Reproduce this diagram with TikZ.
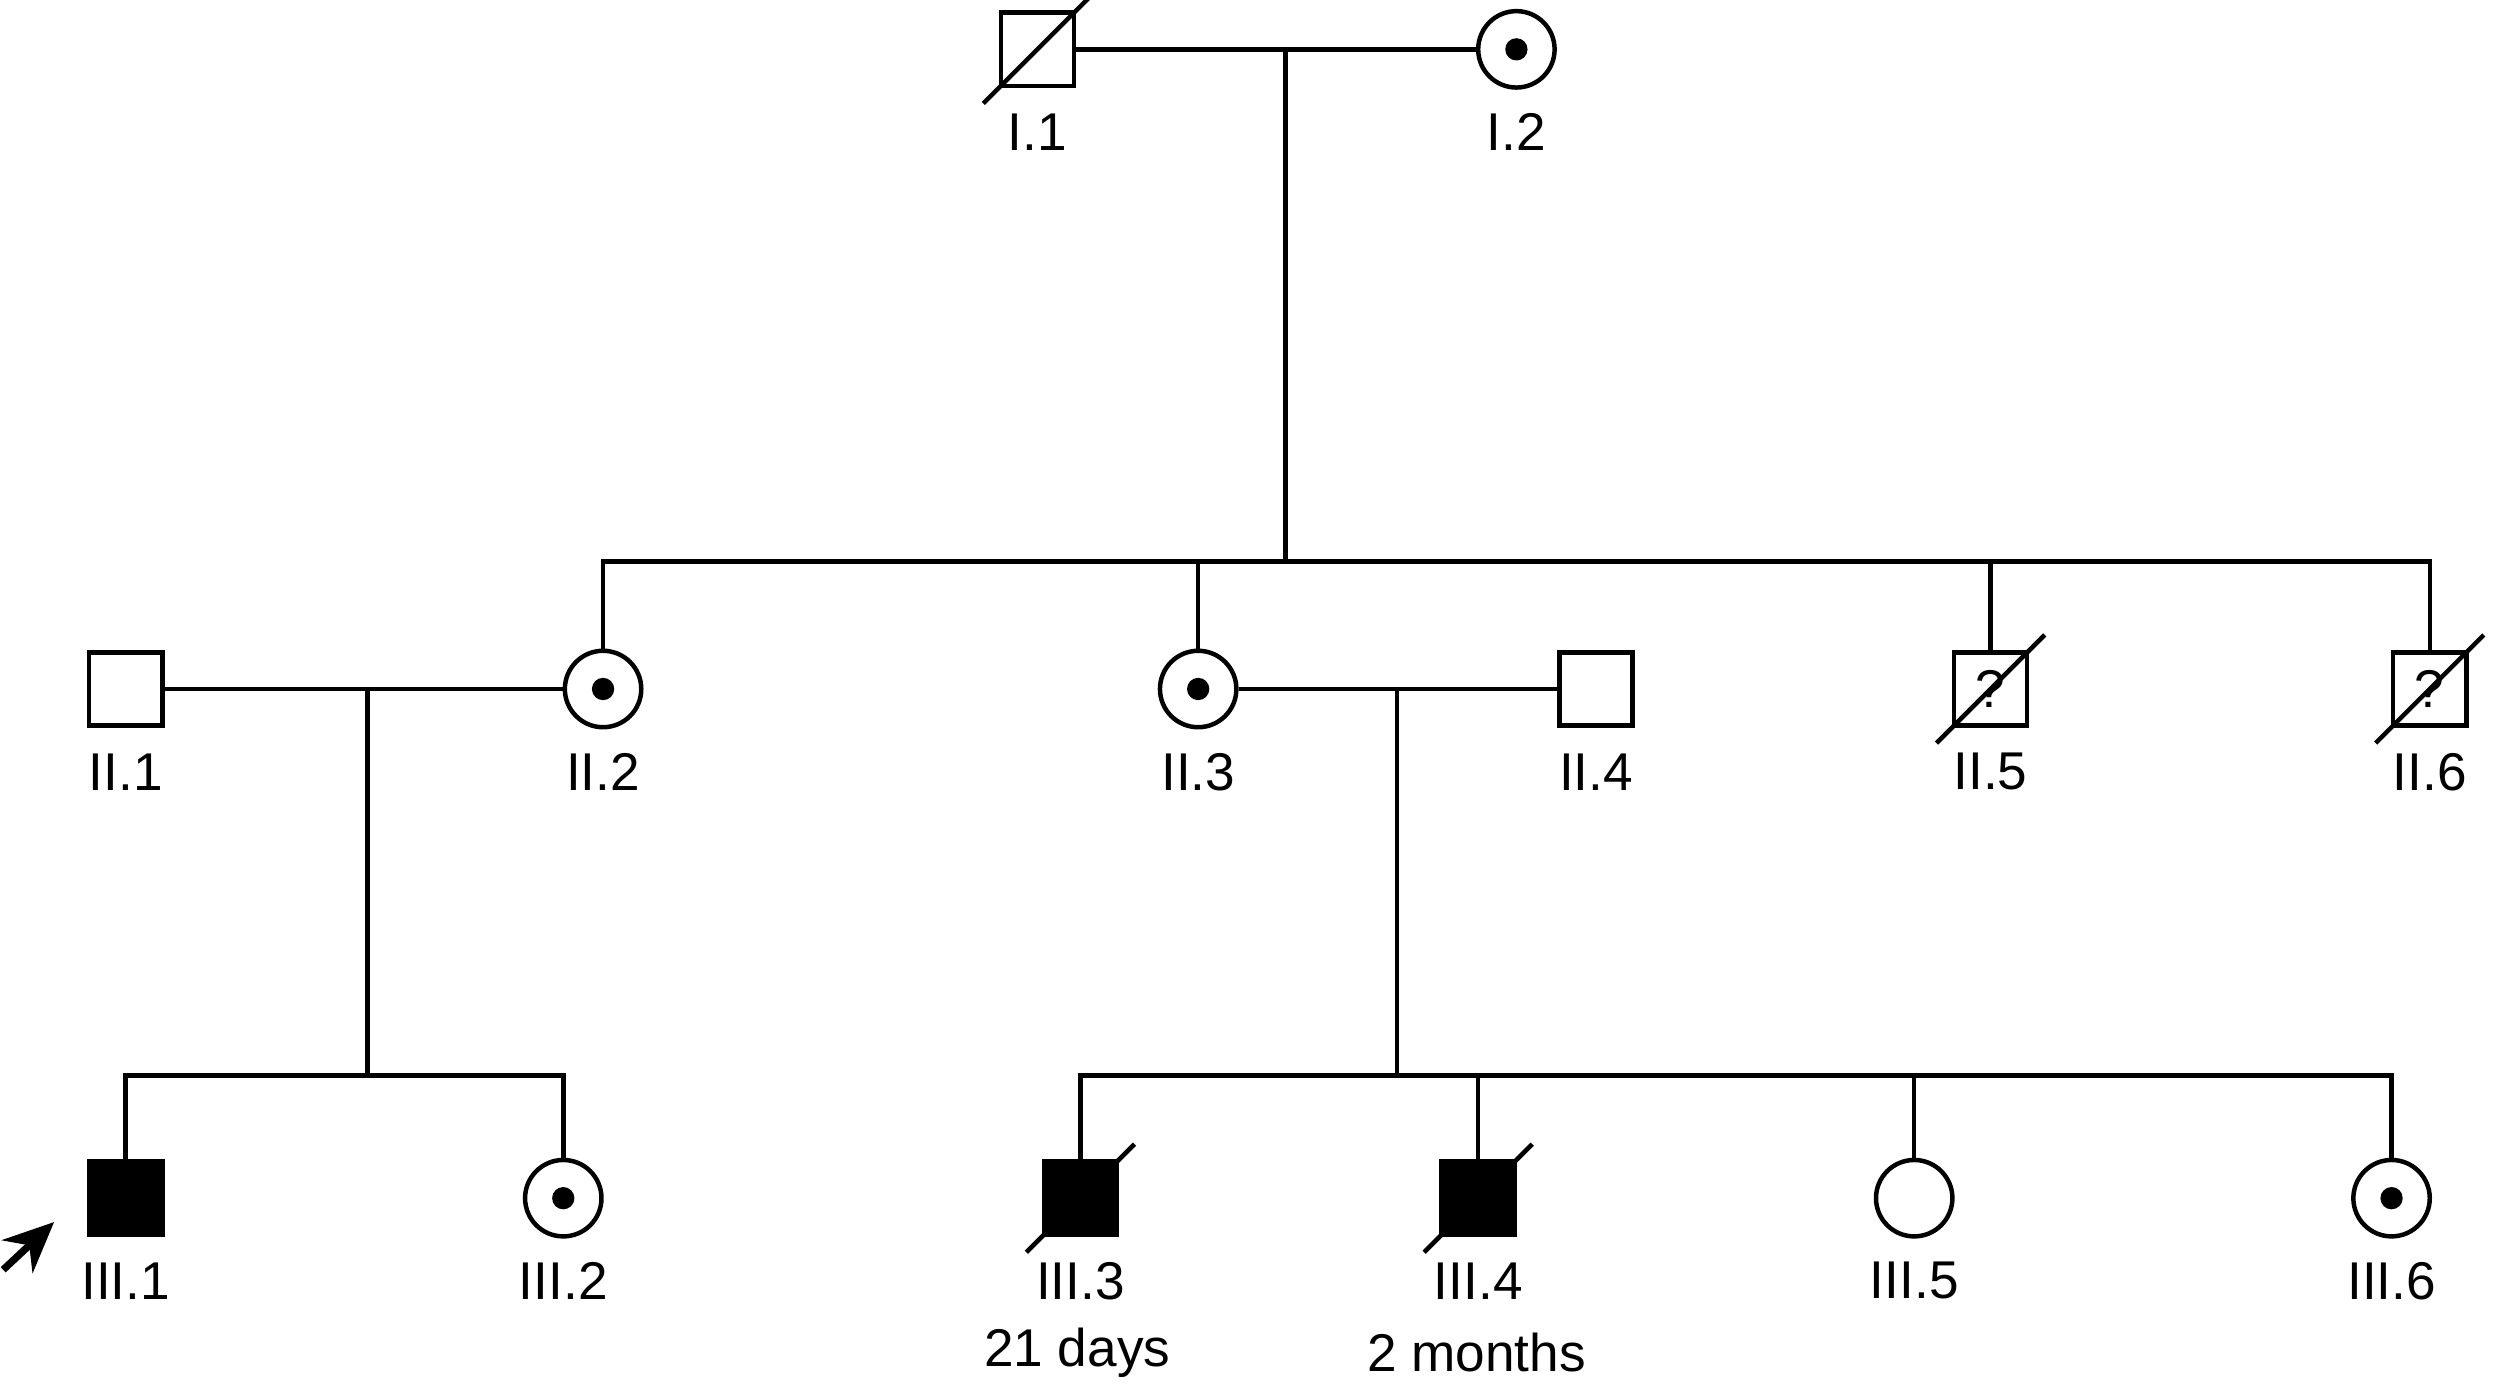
\documentclass[tikz,border=0pt]{standalone}
\usepackage{fontspec}
\setmainfont{Liberation Sans}
\usetikzlibrary{arrows.meta}
\begin{document}
\begin{tikzpicture}[x=0.01cm,y=-0.01cm,line width=0.8pt,
  m/.style={draw,rectangle,minimum size=0.46cm,inner sep=0pt},
  af/.style={m,fill=black},
  f/.style={draw,circle,minimum size=0.48cm,inner sep=0pt},
  car/.style={f,path picture={\fill (path picture bounding box.center) circle (0.07cm);}},
  lab/.style={font=\fontsize{9.5pt}{11pt}\selectfont,inner sep=0pt}]
\useasboundingbox (0,0) rectangle (1568,872);
\newcommand\dead[1]{\draw (#1)++(-34,34) -- ++(68,-68);}
% Gen I
\node[m] (I1) at (652,31) {};
\node[car] (I2) at (953,31) {};
\dead{I1}
\node[lab] at (652,83) {I.1};
\node[lab] at (953,83) {I.2};
\draw (I1.east) -- (I2.west);
\coordinate (d1) at (808,31);
\coordinate (s1) at (808,353);
\draw (d1) -- (s1);
% Gen II
\node[m] (II1) at (79,433) {};
\node[car] (II2) at (379,433) {};
\node[car] (II3) at (753,433) {};
\node[m] (II4) at (1003,433) {};
\node[m,font=\fontsize{9.5pt}{11pt}\selectfont] (II5) at (1251,433) {?};
\node[m,font=\fontsize{9.5pt}{11pt}\selectfont] (II6) at (1527,433) {?};
\dead{II5}\dead{II6}
\foreach \x/\t in {79/II.1,379/II.2,753/II.3,1003/II.4,1251/II.5,1527/II.6}
  \node[lab] at (\x,485) {\t};
\draw (II2.north) |- (s1) -| (II6.north);
\draw (II3.north) -- (753,353);
\draw (II5.north) -- (1251,353);
\draw (II1.east) -- (II2.west);
\draw (II3.east) -- (II4.west);
% Gen III
\node[af] (III1) at (79,753) {};
\node[car] (III2) at (354,753) {};
\node[af] (III3) at (679,753) {};
\node[af] (III4) at (929,753) {};
\node[f] (III5) at (1203,753) {};
\node[car] (III6) at (1503,753) {};
\dead{III3}\dead{III4}
\foreach \x/\t in {79/III.1,354/III.2,679/III.3,929/III.4,1203/III.5,1503/III.6}
  \node[lab] at (\x,805) {\t};
\node[lab] at (677,850) {21 days};
\node[lab] at (928,850) {2 months};
\coordinate (a1) at (231,433);
\coordinate (a2) at (231,676);
\draw (a1) -- (a2);
\draw (III1.north) |- (a2) -| (III2.north);
\coordinate (b1) at (878,433);
\coordinate (b2) at (878,676);
\draw (b1) -- (b2);
\draw (III3.north) |- (b2) -| (III6.north);
\draw (III4.north) -- (929,676);
\draw (III5.north) -- (1203,676);
% proband arrow
\coordinate (p0) at (2,798);
\coordinate (p1) at (34,768);
\draw[-{Stealth[length=9pt,width=8pt]},line width=1.3pt] (p0) -- (p1);
\end{tikzpicture}
\end{document}
